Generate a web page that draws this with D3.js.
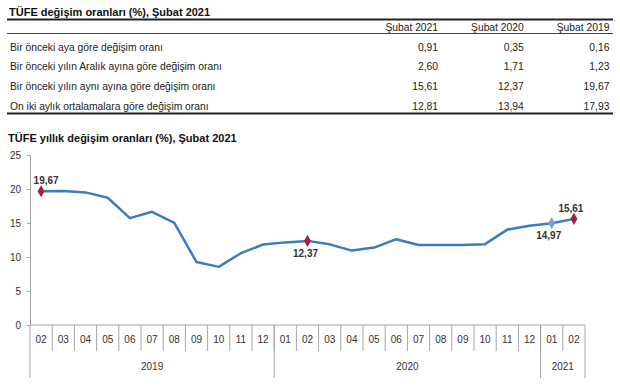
<!doctype html>
<html>
<head>
<meta charset="utf-8">
<title>TÜFE Şubat 2021</title>
<style>
  body { margin: 0; background: #fff; }
  text { font-family: "Liberation Sans", Arial, sans-serif; }
</style>
</head>
<body>
<div id="chart"></div>
<script src="https://d3js.org/d3.v7.min.js"></script>
<script>
// table data
var tableTitle = "TÜFE değişim oranları (%), Şubat 2021";
var colHeads = ["Şubat 2021", "Şubat 2020", "Şubat 2019"];
var rowLabels = [
  "Bir önceki aya göre değişim oranı",
  "Bir önceki yılın Aralık ayına göre değişim oranı",
  "Bir önceki yılın aynı ayına göre değişim oranı",
  "On iki aylık ortalamalara göre değişim oranı"
];
var tableValues = [
  ["0,91", "0,35", "0,16"],
  ["2,60", "1,71", "1,23"],
  ["15,61", "12,37", "19,67"],
  ["12,81", "13,94", "17,93"]
];

// chart data
var chartTitle = "TÜFE yıllık değişim oranları (%), Şubat 2021";
var months = ["02","03","04","05","06","07","08","09","10","11","12",
              "01","02","03","04","05","06","07","08","09","10","11","12",
              "01","02"];
var yearLabels = ["2019", "2020", "2021"];
var yearSpans = [11, 12, 2];
var tufe = [19.67, 19.71, 19.50, 18.71, 15.72, 16.65, 15.01, 9.26, 8.55, 10.56, 11.84,
            12.15, 12.37, 11.86, 10.94, 11.39, 12.62, 11.76, 11.77, 11.75, 11.89, 14.03, 14.60,
            14.97, 15.61];
var yTicks = [0, 5, 10, 15, 20, 25];
var markIdx = [0, 12, 23, 24];
var markType = ["feb", "feb", "jan", "feb"];
var labelSide = ["up", "down", "down", "up"];
var labelShift = [5, -2, -3, -3];

var W = 620, H = 388;
var svg = d3.select("#chart").append("svg")
    .attr("width", W).attr("height", H);

// ---- table ----
var tbl = svg.append("g");
tbl.append("text")
    .attr("x", 9).attr("y", 16)
    .style("font-size", "11px").style("font-weight", "bold").style("fill", "#111")
    .text(tableTitle);

tbl.append("line").attr("x1", 7).attr("x2", 613).attr("y1", 19.5).attr("y2", 19.5)
    .style("stroke", "#222").style("stroke-width", 2);
tbl.append("line").attr("x1", 7).attr("x2", 613).attr("y1", 33.5).attr("y2", 33.5)
    .style("stroke", "#444").style("stroke-width", 1);
tbl.append("line").attr("x1", 7).attr("x2", 613).attr("y1", 113.5).attr("y2", 113.5)
    .style("stroke", "#222").style("stroke-width", 2);

var colX = d3.scaleBand().domain(d3.range(colHeads.length)).range([352.4, 609.4]);
var rowY = d3.scalePoint().domain(d3.range(rowLabels.length)).range([47, 106.5]);
var fs = "10.3px";

tbl.selectAll(".colhead").data(colHeads).enter().append("text")
    .attr("x", function(d, i) { return colX(i) + colX.bandwidth(); })
    .attr("y", 31)
    .attr("text-anchor", "end")
    .style("font-size", fs).style("fill", "#222")
    .text(function(d) { return d; });

tbl.selectAll(".rowlabel").data(rowLabels).enter().append("text")
    .attr("x", 10)
    .attr("y", function(d, i) { return rowY(i); })
    .attr("dy", "0.35em")
    .style("font-size", fs).style("fill", "#222")
    .text(function(d) { return d; });

tableValues.forEach(function(row, r) {
  tbl.selectAll(".v" + r).data(row).enter().append("text")
      .attr("x", function(d, i) { return colX(i) + colX.bandwidth(); })
      .attr("y", rowY(r))
      .attr("dy", "0.35em")
      .attr("text-anchor", "end")
      .style("font-size", fs).style("fill", "#222")
      .text(function(d) { return d; });
});

// ---- chart ----
svg.append("text")
    .attr("x", 8).attr("y", 142)
    .style("font-size", "11px").style("font-weight", "bold").style("fill", "#111")
    .text(chartTitle);

var x = d3.scaleBand().domain(d3.range(months.length)).range([30, 585]).padding(0);
var y = d3.scaleLinear().domain([0, 25]).range([325, 155]);

var axisColor = "#a6a6a6";

// y axis
var yAxis = svg.append("g")
    .attr("transform", "translate(30,0)")
    .call(d3.axisLeft(y).tickValues(yTicks).tickSize(3).tickPadding(6));
yAxis.select(".domain").style("stroke", axisColor);
yAxis.selectAll(".tick line").style("stroke", axisColor);
yAxis.selectAll(".tick text")
    .style("font-family", "'Liberation Sans', Arial, sans-serif")
    .style("font-size", "10px").style("fill", "#333");

// x axis line
svg.append("line")
    .attr("x1", x.range()[0]).attr("x2", x.range()[1])
    .attr("y1", y(0)).attr("y2", y(0))
    .style("stroke", axisColor);

// month dividers
svg.selectAll(".mdiv").data(d3.range(1, months.length)).enter().append("line")
    .attr("x1", function(i) { return x(i); }).attr("x2", function(i) { return x(i); })
    .attr("y1", y(0)).attr("y2", y(0) + 26)
    .style("stroke", axisColor);

// month labels
svg.selectAll(".mlab").data(months).enter().append("text")
    .attr("x", function(d, i) { return x(i) + x.bandwidth() / 2; })
    .attr("y", y(0) + 18)
    .attr("text-anchor", "middle")
    .style("font-size", "10px").style("fill", "#333")
    .text(function(d) { return d; });

// year dividers and labels
var yearStart = [0];
yearSpans.forEach(function(n, i) { yearStart.push(yearStart[i] + n); });
svg.selectAll(".ydiv").data(yearStart).enter().append("line")
    .attr("x1", function(i) { return i < months.length ? x(i) : x.range()[1]; })
    .attr("x2", function(i) { return i < months.length ? x(i) : x.range()[1]; })
    .attr("y1", y(0)).attr("y2", y(0) + 53)
    .style("stroke", axisColor);
svg.selectAll(".ylab").data(yearLabels).enter().append("text")
    .attr("x", function(d, i) {
      var a = x(yearStart[i]);
      var b = yearStart[i + 1] < months.length ? x(yearStart[i + 1]) : x.range()[1];
      return (a + b) / 2;
    })
    .attr("y", y(0) + 45)
    .attr("text-anchor", "middle")
    .style("font-size", "10px").style("fill", "#333")
    .text(function(d) { return d; });

// line
var line = d3.line()
    .x(function(d, i) { return x(i) + x.bandwidth() / 2; })
    .y(function(d) { return y(d); });
svg.append("path").datum(tufe)
    .attr("d", line)
    .style("fill", "none").style("stroke", "#3a7dbf").style("stroke-width", 2.5)
    .style("stroke-linejoin", "round");

// markers
var diamond = d3.symbol().type(d3.symbolDiamond).size(42);
svg.selectAll(".mk").data(markIdx).enter().append("path")
    .attr("d", diamond)
    .attr("transform", function(i) {
      return "translate(" + (x(i) + x.bandwidth() / 2) + "," + y(tufe[i]) + ")";
    })
    .style("fill", function(d, k) { return markType[k] === "feb" ? "#a3203a" : "#7b9ed0"; });

svg.selectAll(".mlbl").data(markIdx).enter().append("text")
    .attr("x", function(i, k) { return x(i) + x.bandwidth() / 2 + labelShift[k]; })
    .attr("y", function(i, k) { return y(tufe[i]) + (labelSide[k] === "up" ? -7 : 16); })
    .attr("text-anchor", "middle")
    .style("font-size", "10px").style("font-weight", "bold").style("fill", "#333")
    .text(function(i) { return d3.format(".2f")(tufe[i]).replace(".", ","); });
</script>
</body>
</html>
